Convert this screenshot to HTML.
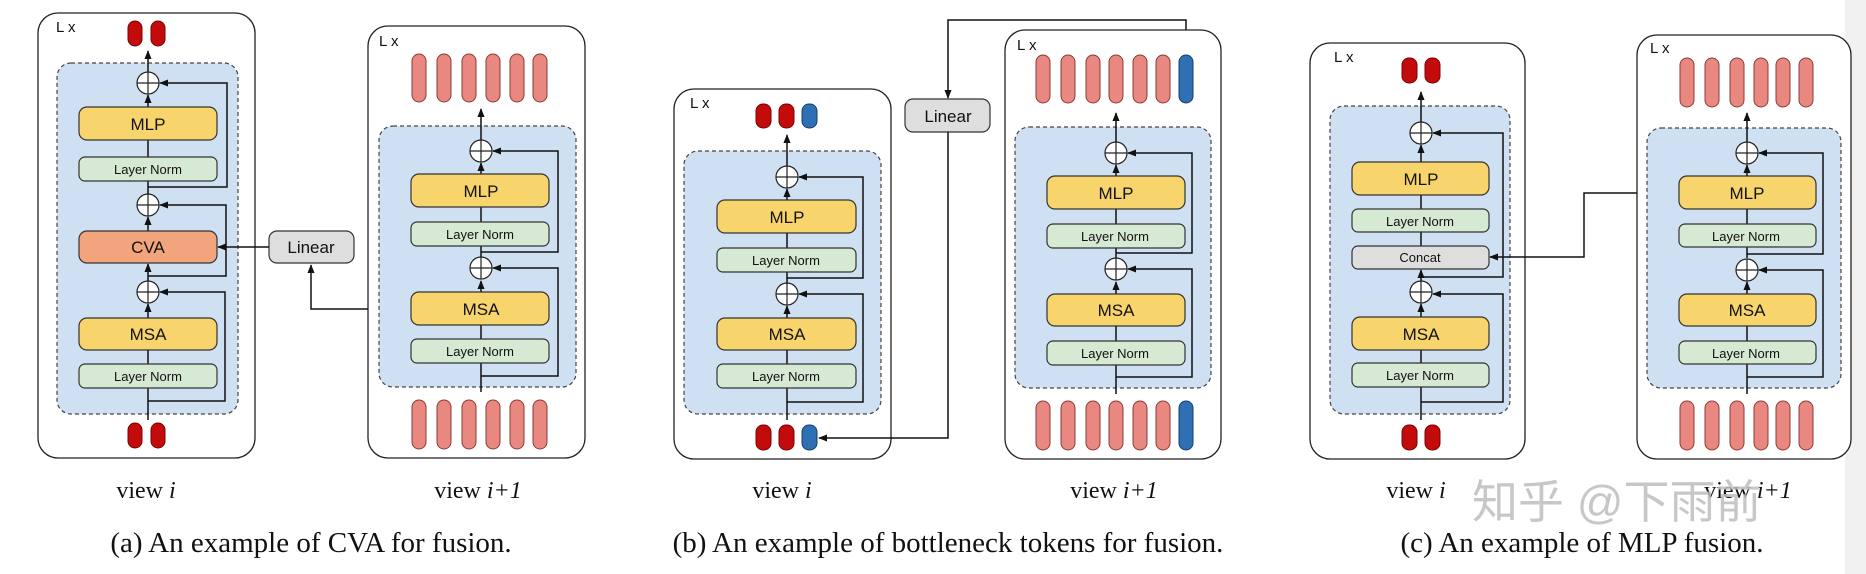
<!DOCTYPE html>
<html><head><meta charset="utf-8"><style>
html,body{margin:0;padding:0;background:#fff;width:1866px;height:574px;overflow:hidden}
svg{display:block}
.ob{fill:#fff;stroke:#222;stroke-width:1.3}
.ds{fill:#cfe0f2;stroke:#444;stroke-width:1.2;stroke-dasharray:4 3}
.mlp{fill:#f8d46c;stroke:#333;stroke-width:1.2}
.ln{fill:#d6e9d2;stroke:#333;stroke-width:1.2}
.cva{fill:#f2a57c;stroke:#333;stroke-width:1.2}
.gr{fill:#dedede;stroke:#333;stroke-width:1.2}
.rt{fill:#c40b0b;stroke:#7a0000;stroke-width:1}
.bt{fill:#2f6fb3;stroke:#173e6b;stroke-width:1}
.pt{fill:#e88880;stroke:#8c3b35;stroke-width:1}
.l{fill:none;stroke:#111;stroke-width:1.5}
.pl{fill:#fff;stroke:#222;stroke-width:1.2}
.t{font-family:"Liberation Sans",sans-serif;fill:#111;text-anchor:middle}
.b{font-size:17px}.s{font-size:13px}
.lx{font-family:"Liberation Sans",sans-serif;font-size:15px;fill:#111}
.v{font-family:"Liberation Serif",serif;font-size:24px;fill:#111;text-anchor:middle}
.c{font-family:"Liberation Serif",serif;font-size:29px;fill:#111;text-anchor:middle}
</style></head><body>
<svg width="1866" height="574" viewBox="0 0 1866 574" xmlns="http://www.w3.org/2000/svg">
<defs>
<marker id="a" viewBox="0 0 10 10" refX="9" refY="5" markerWidth="6" markerHeight="6" orient="auto-start-reverse"><path d="M0,1 L10,5 L0,9 z" fill="#111"/></marker>
<g id="pc"><circle r="11" class="pl"/><path d="M-11,0H11M0,-11V11" stroke="#222" stroke-width="1.2"/></g>
</defs>
<rect x="1845" y="0" width="21" height="574" fill="#f1f1f1"/>

<!-- ===== (a) ===== -->
<rect class="ob" x="38" y="13" width="217" height="445" rx="20"/>
<text class="lx" x="56" y="32">L x</text>
<rect class="rt" x="128" y="21" width="14" height="25" rx="7"/><rect class="rt" x="151" y="21" width="14" height="25" rx="7"/>
<rect class="ds" x="57" y="63" width="181" height="351" rx="14"/>
<path class="l" d="M148 420V304" marker-end="url(#a)"/>
<path class="l" d="M148 281V264" marker-end="url(#a)"/>
<path class="l" d="M148 231V217" marker-end="url(#a)"/>
<path class="l" d="M148 194V95" marker-end="url(#a)"/>
<path class="l" d="M148 72V51" marker-end="url(#a)"/>
<path class="l" d="M148 401H225V292H160" marker-end="url(#a)"/>
<path class="l" d="M148 276H226V205H160" marker-end="url(#a)"/>
<path class="l" d="M148 187H227V83H160" marker-end="url(#a)"/>
<rect class="mlp" x="79" y="107" width="138" height="33" rx="8"/><text class="t b" x="148" y="130">MLP</text>
<rect class="ln" x="79" y="157" width="138" height="24" rx="6"/><text class="t s" x="148" y="174">Layer Norm</text>
<rect class="cva" x="79" y="231" width="138" height="32" rx="8"/><text class="t b" x="148" y="253">CVA</text>
<rect class="mlp" x="79" y="318" width="138" height="32" rx="8"/><text class="t b" x="148" y="340">MSA</text>
<rect class="ln" x="79" y="364" width="138" height="24" rx="6"/><text class="t s" x="148" y="381">Layer Norm</text>
<use href="#pc" x="148" y="83"/><use href="#pc" x="148" y="205"/><use href="#pc" x="148" y="292"/>
<rect class="rt" x="128" y="423" width="14" height="25" rx="7"/><rect class="rt" x="151" y="423" width="14" height="25" rx="7"/>

<rect class="gr" x="269" y="231" width="85" height="32" rx="8"/><text class="t b" x="311" y="253">Linear</text>
<path class="l" d="M269 247H218" marker-end="url(#a)"/>
<path class="l" d="M411 309H311V265" marker-end="url(#a)"/>

<rect class="ob" x="368" y="26" width="217" height="432" rx="20"/>
<text class="lx" x="379" y="46">L x</text>
<g class="pt"><rect x="412" y="54" width="14" height="48" rx="7"/><rect x="437" y="54" width="14" height="48" rx="7"/><rect x="462" y="54" width="14" height="48" rx="7"/><rect x="486" y="54" width="14" height="48" rx="7"/><rect x="510" y="54" width="14" height="48" rx="7"/><rect x="533" y="54" width="14" height="48" rx="7"/></g>
<rect class="ds" x="379" y="126" width="197" height="261" rx="14"/>
<path class="l" d="M481 392V281" marker-end="url(#a)"/>
<path class="l" d="M481 257V163" marker-end="url(#a)"/>
<path class="l" d="M481 140V109" marker-end="url(#a)"/>
<path class="l" d="M481 376H558V268H493" marker-end="url(#a)"/>
<path class="l" d="M481 252H558V151H493" marker-end="url(#a)"/>
<rect class="mlp" x="411" y="174" width="138" height="33" rx="8"/><text class="t b" x="481" y="197">MLP</text>
<rect class="ln" x="411" y="222" width="138" height="24" rx="6"/><text class="t s" x="480" y="239">Layer Norm</text>
<rect class="mlp" x="411" y="292" width="138" height="33" rx="8"/><text class="t b" x="481" y="315">MSA</text>
<rect class="ln" x="411" y="339" width="138" height="24" rx="6"/><text class="t s" x="480" y="356">Layer Norm</text>
<use href="#pc" x="481" y="151"/><use href="#pc" x="481" y="268"/>
<g class="pt"><rect x="412" y="400" width="14" height="49" rx="7"/><rect x="437" y="400" width="14" height="49" rx="7"/><rect x="462" y="400" width="14" height="49" rx="7"/><rect x="486" y="400" width="14" height="49" rx="7"/><rect x="510" y="400" width="14" height="49" rx="7"/><rect x="533" y="400" width="14" height="49" rx="7"/></g>
<text class="v" x="146" y="498">view <tspan font-style="italic">i</tspan></text>
<text class="v" x="478" y="498">view <tspan font-style="italic">i+1</tspan></text>
<text class="c" x="311" y="552">(a) An example of CVA for fusion.</text>

<!-- ===== (b) ===== -->
<rect class="ob" x="674" y="89" width="217" height="370" rx="20"/>
<text class="lx" x="690" y="108">L x</text>
<rect class="rt" x="756" y="104" width="15" height="24" rx="7"/><rect class="rt" x="779" y="104" width="15" height="24" rx="7"/><rect class="bt" x="802" y="104" width="15" height="24" rx="7"/>
<rect class="ds" x="684" y="151" width="197" height="263" rx="14"/>
<path class="l" d="M787 420V306" marker-end="url(#a)"/>
<path class="l" d="M787 283V189" marker-end="url(#a)"/>
<path class="l" d="M787 166V135" marker-end="url(#a)"/>
<path class="l" d="M787 402H863V294H799" marker-end="url(#a)"/>
<path class="l" d="M787 278H863V177H799" marker-end="url(#a)"/>
<rect class="mlp" x="717" y="200" width="139" height="33" rx="8"/><text class="t b" x="787" y="223">MLP</text>
<rect class="ln" x="717" y="248" width="139" height="24" rx="6"/><text class="t s" x="786" y="265">Layer Norm</text>
<rect class="mlp" x="717" y="318" width="139" height="32" rx="8"/><text class="t b" x="787" y="340">MSA</text>
<rect class="ln" x="717" y="364" width="139" height="24" rx="6"/><text class="t s" x="786" y="381">Layer Norm</text>
<use href="#pc" x="787" y="177"/><use href="#pc" x="787" y="294"/>
<rect class="rt" x="756" y="425" width="15" height="25" rx="7"/><rect class="rt" x="779" y="425" width="15" height="25" rx="7"/><rect class="bt" x="802" y="425" width="15" height="25" rx="7"/>

<rect class="gr" x="905" y="99" width="85" height="33" rx="8"/><text class="t b" x="948" y="122">Linear</text>
<path class="l" d="M948 132V438H819" marker-end="url(#a)"/>
<path class="l" d="M1186 55V20H948V98" marker-end="url(#a)"/>

<rect class="ob" x="1005" y="30" width="216" height="429" rx="20"/>
<text class="lx" x="1017" y="50">L x</text>
<g class="pt"><rect x="1036" y="55" width="14" height="48" rx="7"/><rect x="1061" y="55" width="14" height="48" rx="7"/><rect x="1086" y="55" width="14" height="48" rx="7"/><rect x="1109" y="55" width="14" height="48" rx="7"/><rect x="1133" y="55" width="14" height="48" rx="7"/><rect x="1156" y="55" width="14" height="48" rx="7"/></g>
<rect class="bt" x="1179" y="55" width="14" height="48" rx="7"/>
<rect class="ds" x="1015" y="127" width="196" height="261" rx="14"/>
<path class="l" d="M1116 394V282" marker-end="url(#a)"/>
<path class="l" d="M1116 258V165" marker-end="url(#a)"/>
<path class="l" d="M1116 142V113" marker-end="url(#a)"/>
<path class="l" d="M1116 377H1192V269H1128" marker-end="url(#a)"/>
<path class="l" d="M1116 253H1192V153H1128" marker-end="url(#a)"/>
<rect class="mlp" x="1047" y="176" width="138" height="33" rx="8"/><text class="t b" x="1116" y="199">MLP</text>
<rect class="ln" x="1047" y="224" width="138" height="24" rx="6"/><text class="t s" x="1115" y="241">Layer Norm</text>
<rect class="mlp" x="1047" y="294" width="138" height="32" rx="8"/><text class="t b" x="1116" y="316">MSA</text>
<rect class="ln" x="1047" y="341" width="138" height="24" rx="6"/><text class="t s" x="1115" y="358">Layer Norm</text>
<use href="#pc" x="1116" y="153"/><use href="#pc" x="1116" y="269"/>
<g class="pt"><rect x="1036" y="401" width="14" height="49" rx="7"/><rect x="1061" y="401" width="14" height="49" rx="7"/><rect x="1086" y="401" width="14" height="49" rx="7"/><rect x="1109" y="401" width="14" height="49" rx="7"/><rect x="1133" y="401" width="14" height="49" rx="7"/><rect x="1156" y="401" width="14" height="49" rx="7"/></g>
<rect class="bt" x="1179" y="401" width="14" height="49" rx="7"/>
<text class="v" x="782" y="498">view <tspan font-style="italic">i</tspan></text>
<text class="v" x="1114" y="498">view <tspan font-style="italic">i+1</tspan></text>
<text class="c" x="948" y="552">(b) An example of bottleneck tokens for fusion.</text>

<!-- ===== (c) ===== -->
<rect class="ob" x="1310" y="43" width="215" height="416" rx="20"/>
<text class="lx" x="1334" y="62">L x</text>
<rect class="rt" x="1402" y="58" width="15" height="25" rx="7"/><rect class="rt" x="1425" y="58" width="15" height="25" rx="7"/>
<rect class="ds" x="1330" y="106" width="180" height="308" rx="14"/>
<path class="l" d="M1421 420V304" marker-end="url(#a)"/>
<path class="l" d="M1421 281V270" marker-end="url(#a)"/>
<path class="l" d="M1421 246V145" marker-end="url(#a)"/>
<path class="l" d="M1421 122V92" marker-end="url(#a)"/>
<path class="l" d="M1421 402H1503V294H1433" marker-end="url(#a)"/>
<path class="l" d="M1421 277H1503V133H1433" marker-end="url(#a)"/>
<rect class="mlp" x="1352" y="162" width="137" height="33" rx="8"/><text class="t b" x="1421" y="185">MLP</text>
<rect class="ln" x="1352" y="209" width="137" height="23" rx="6"/><text class="t s" x="1420" y="226">Layer Norm</text>
<rect class="gr" x="1352" y="246" width="137" height="23" rx="6"/><text class="t s" x="1420" y="262">Concat</text>
<rect class="mlp" x="1352" y="317" width="137" height="33" rx="8"/><text class="t b" x="1421" y="340">MSA</text>
<rect class="ln" x="1352" y="363" width="137" height="24" rx="6"/><text class="t s" x="1420" y="380">Layer Norm</text>
<use href="#pc" x="1421" y="133"/><use href="#pc" x="1421" y="292"/>
<rect class="rt" x="1402" y="425" width="15" height="25" rx="7"/><rect class="rt" x="1425" y="425" width="15" height="25" rx="7"/>
<path class="l" d="M1679 193H1584V257H1490" marker-end="url(#a)"/>

<rect class="ob" x="1637" y="35" width="214" height="424" rx="20"/>
<text class="lx" x="1650" y="53">L x</text>
<g class="pt"><rect x="1680" y="58" width="14" height="49" rx="7"/><rect x="1705" y="58" width="14" height="49" rx="7"/><rect x="1730" y="58" width="14" height="49" rx="7"/><rect x="1754" y="58" width="14" height="49" rx="7"/><rect x="1776" y="58" width="14" height="49" rx="7"/><rect x="1799" y="58" width="14" height="49" rx="7"/></g>
<rect class="ds" x="1647" y="128" width="194" height="260" rx="14"/>
<path class="l" d="M1747 394V282" marker-end="url(#a)"/>
<path class="l" d="M1747 258V165" marker-end="url(#a)"/>
<path class="l" d="M1747 142V113" marker-end="url(#a)"/>
<path class="l" d="M1747 377H1823V270H1759" marker-end="url(#a)"/>
<path class="l" d="M1747 254H1823V153H1759" marker-end="url(#a)"/>
<rect class="mlp" x="1679" y="176" width="137" height="33" rx="8"/><text class="t b" x="1747" y="199">MLP</text>
<rect class="ln" x="1679" y="224" width="137" height="23" rx="6"/><text class="t s" x="1746" y="241">Layer Norm</text>
<rect class="mlp" x="1679" y="294" width="137" height="32" rx="8"/><text class="t b" x="1747" y="316">MSA</text>
<rect class="ln" x="1679" y="341" width="137" height="23" rx="6"/><text class="t s" x="1746" y="358">Layer Norm</text>
<use href="#pc" x="1747" y="153"/><use href="#pc" x="1747" y="270"/>
<g class="pt"><rect x="1680" y="401" width="14" height="49" rx="7"/><rect x="1705" y="401" width="14" height="49" rx="7"/><rect x="1730" y="401" width="14" height="49" rx="7"/><rect x="1754" y="401" width="14" height="49" rx="7"/><rect x="1776" y="401" width="14" height="49" rx="7"/><rect x="1799" y="401" width="14" height="49" rx="7"/></g>
<text class="v" x="1416" y="498">view <tspan font-style="italic">i</tspan></text>
<text class="v" x="1748" y="498">view <tspan font-style="italic">i+1</tspan></text>
<text x="1472" y="518" font-family="Liberation Sans, Noto Sans CJK SC, sans-serif" font-size="46" fill="#bdbdbd" fill-opacity="0.85">知乎 @下雨前</text>
<text class="c" x="1582" y="552">(c) An example of MLP fusion.</text>
</svg>
</body></html>
